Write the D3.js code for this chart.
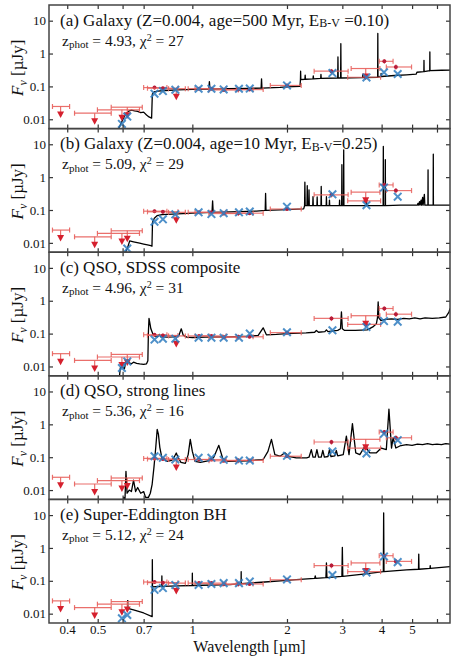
<!DOCTYPE html>
<html>
<head>
<meta charset="utf-8">
<script src="https://cdn.jsdelivr.net/npm/d3@7"></script>
<style>
body { margin: 0; background: #fff; }
svg text { font-family: "Liberation Serif", "DejaVu Serif", serif; fill: #111; }
</style>
</head>
<body>
<div id="figure"></div>
<script>

// axis ticks
var xTicks = [0.4, 0.5, 0.6, 0.7, 1, 2, 3, 4, 5, 6];
var xTickLabels = [0.4, 0.5, 0.7, 1, 2, 3, 4, 5];
var yTicks = [0.01, 0.1, 1, 10];

// observed photometry (same in every panel)
var detLam  = [0.758, 0.806, 1.05, 1.15, 1.26, 1.40, 1.52, 2.0, 2.77, 3.56, 4.08, 4.44];
var detLo   = [0.70, 0.72, 0.97, 1.02, 1.13, 1.25, 1.38, 1.77, 2.44, 3.12, 3.93, 4.14];
var detHi   = [0.83, 0.90, 1.13, 1.28, 1.40, 1.56, 1.68, 2.22, 3.13, 3.97, 4.35, 4.98];
var detFlux = [0.092, 0.088, 0.085, 0.085, 0.078, 0.080, 0.080, 0.107, 0.29, 0.19, 0.58, 0.39];
var detErr  = [0.012, 0.012, 0.008, 0.008, 0.008, 0.008, 0.008, 0.010, 0.05, 0.03, 0.09, 0.07];

// upper limits
var ulLam  = [0.381, 0.489, 0.597, 0.621, 0.889, 3.56];
var ulLo   = [0.359, 0.422, 0.499, 0.552, 0.84, 3.20];
var ulHi   = [0.407, 0.552, 0.679, 0.693, 0.95, 3.95];
var ulFlux = [0.0245, 0.0153, 0.0194, 0.0233, 0.085, 0.35];

// model photometry (blue crosses)
var filtLam = [0.597, 0.621, 0.758, 0.806, 0.883, 1.047, 1.15, 1.258, 1.407, 1.523, 2.0, 2.79, 3.58, 4.07, 4.50];
var modelA = [0.0072, 0.0121, 0.060, 0.072, 0.079, 0.085, 0.085, 0.081, 0.085, 0.086, 0.107, 0.255, 0.188, 0.268, 0.238];
var modelB = [0.003, 0.0067, 0.044, 0.052, 0.074, 0.085, 0.075, 0.080, 0.085, 0.090, 0.126, 0.30, 0.14, 0.48, 0.255];
var modelC = [0.009, 0.0142, 0.066, 0.070, 0.070, 0.075, 0.075, 0.075, 0.075, 0.100, 0.110, 0.126, 0.16, 0.24, 0.23];
var modelD = [0.003, 0.003, 0.107, 0.096, 0.085, 0.096, 0.096, 0.083, 0.079, 0.079, 0.110, 0.15, 0.13, 0.52, 0.33];
var modelE = [0.0072, 0.0091, 0.053, 0.060, 0.075, 0.075, 0.080, 0.085, 0.085, 0.095, 0.110, 0.15, 0.18, 0.55, 0.37];

// model spectra [wavelength um, flux uJy]
var specA = [[0.575,0.004],[0.595,0.008],[0.61,0.013],[0.625,0.0175],[0.64,0.019],[0.655,0.018],[0.67,0.0175],[0.685,0.016],[0.70,0.0165],[0.715,0.0135],[0.728,0.0118],[0.742,0.0108],[0.746,0.058],[0.756,0.068],[0.775,0.072],[0.82,0.075],[0.9,0.078],[1.0,0.081],[1.128,0.083],[1.133,0.14],[1.138,0.083],[1.3,0.085],[1.5,0.087],[1.655,0.089],[1.66,0.17],[1.665,0.089],[1.9,0.093],[2.0,0.097],[2.2,0.1],[2.207,0.16],[2.21,0.29],[2.214,0.16],[2.28,0.165],[2.285,0.22],[2.29,0.165],[2.42,0.17],[2.425,0.21],[2.43,0.17],[2.56,0.175],[2.565,0.23],[2.57,0.175],[2.9,0.18],[2.905,0.79],[2.91,0.18],[2.962,0.18],[2.967,2.0],[2.972,0.18],[3.2,0.182],[3.48,0.185],[3.485,0.23],[3.49,0.185],[3.885,0.19],[3.89,4.1],[3.895,0.19],[3.98,0.2],[3.985,0.25],[3.99,0.2],[4.4,0.215],[4.8,0.225],[5.15,0.235],[5.18,0.27],[5.45,0.28],[5.455,0.62],[5.46,0.28],[5.69,0.3],[5.695,1.12],[5.70,0.3],[6.2,0.31],[6.6,0.315]];

var specB = [[0.605,0.004],[0.622,0.007],[0.632,0.0115],[0.65,0.0108],[0.68,0.0098],[0.70,0.0092],[0.72,0.0087],[0.738,0.0082],[0.744,0.0079],[0.747,0.042],[0.757,0.056],[0.772,0.067],[0.8,0.072],[0.9,0.076],[1.0,0.08],[1.155,0.085],[1.16,0.19],[1.165,0.085],[1.4,0.089],[1.6,0.093],[1.705,0.097],[1.71,0.32],[1.715,0.098],[2.0,0.103],[2.26,0.108],[2.275,0.135],[2.28,0.7],[2.285,0.135],[2.315,0.135],[2.32,0.55],[2.325,0.135],[2.345,0.135],[2.35,0.41],[2.355,0.135],[2.415,0.135],[2.42,0.255],[2.425,0.135],[2.49,0.135],[2.495,0.25],[2.5,0.135],[2.565,0.135],[2.57,0.52],[2.575,0.135],[2.665,0.135],[2.67,0.255],[2.675,0.135],[2.725,0.135],[2.73,0.2],[2.735,0.135],[2.935,0.135],[2.94,0.2],[2.945,0.135],[2.985,0.135],[2.99,2.4],[2.995,0.135],[3.025,0.135],[3.03,6.8],[3.035,0.135],[3.3,0.135],[3.58,0.135],[3.585,0.17],[3.59,0.135],[4.045,0.135],[4.05,8.6],[4.055,0.135],[4.105,0.135],[4.11,3.4],[4.115,0.135],[4.6,0.14],[5.2,0.14],[5.22,0.16],[5.24,0.14],[5.28,0.18],[5.3,0.14],[5.34,0.2],[5.36,0.14],[5.4,0.24],[5.42,0.14],[5.47,0.3],[5.49,0.14],[5.615,0.14],[5.62,1.67],[5.625,0.14],[5.835,0.14],[5.84,5.0],[5.845,0.14],[6.2,0.14],[6.6,0.14]];

var specC = [[0.585,0.004],[0.59,0.009],[0.6,0.0095],[0.608,0.0085],[0.615,0.0145],[0.622,0.016],[0.63,0.013],[0.64,0.012],[0.65,0.0135],[0.665,0.0125],[0.68,0.012],[0.70,0.0115],[0.715,0.012],[0.722,0.015],[0.725,0.12],[0.728,0.29],[0.732,0.22],[0.738,0.14],[0.748,0.1],[0.76,0.085],[0.775,0.08],[0.785,0.095],[0.795,0.08],[0.83,0.078],[0.87,0.08],[0.905,0.085],[0.922,0.14],[0.935,0.09],[0.96,0.078],[1.0,0.076],[1.1,0.078],[1.3,0.08],[1.5,0.083],[1.62,0.088],[1.68,0.15],[1.72,0.092],[1.85,0.095],[2.0,0.1],[2.3,0.105],[2.45,0.11],[2.48,0.125],[2.52,0.11],[2.64,0.115],[2.67,0.13],[2.7,0.115],[2.9,0.125],[2.96,0.14],[2.98,0.46],[3.0,0.14],[3.05,0.125],[3.3,0.125],[3.6,0.13],[3.75,0.16],[3.85,0.2],[3.88,0.3],[3.9,0.93],[3.92,0.3],[3.98,0.25],[4.1,0.27],[4.3,0.28],[4.5,0.27],[4.7,0.29],[4.9,0.28],[5.1,0.3],[5.3,0.28],[5.5,0.3],[5.8,0.29],[6.1,0.3],[6.4,0.32],[6.55,0.45],[6.6,0.58]];

var specD = [[0.6,0.003],[0.605,0.006],[0.61,0.004],[0.615,0.037],[0.62,0.008],[0.63,0.01],[0.64,0.009],[0.65,0.02],[0.66,0.009],[0.67,0.012],[0.685,0.008],[0.7,0.009],[0.71,0.006],[0.725,0.006],[0.735,0.008],[0.745,0.015],[0.755,0.05],[0.765,0.2],[0.773,0.7],[0.78,0.5],[0.788,0.2],[0.8,0.095],[0.815,0.085],[0.83,0.075],[0.86,0.08],[0.875,0.1],[0.889,0.134],[0.9,0.1],[0.92,0.07],[0.95,0.065],[0.97,0.12],[0.985,0.35],[1.0,0.15],[1.02,0.075],[1.06,0.07],[1.1,0.075],[1.14,0.08],[1.17,0.1],[1.214,0.23],[1.25,0.09],[1.3,0.075],[1.5,0.078],[1.68,0.085],[1.74,0.15],[1.785,0.35],[1.83,0.12],[1.9,0.107],[1.97,0.136],[2.02,0.107],[2.14,0.096],[2.31,0.096],[2.35,0.1],[2.39,0.17],[2.42,0.1],[2.46,0.1],[2.49,0.17],[2.52,0.1],[2.57,0.1],[2.6,0.16],[2.63,0.1],[2.7,0.105],[2.73,0.17],[2.76,0.105],[2.84,0.11],[2.87,0.16],[2.9,0.11],[3.02,0.12],[3.09,0.44],[3.15,0.12],[3.23,1.05],[3.31,0.136],[3.41,0.12],[3.54,0.217],[3.67,0.136],[3.85,0.136],[3.99,0.19],[4.14,0.17],[4.22,2.9],[4.3,0.19],[4.35,0.39],[4.44,0.19],[4.57,0.22],[4.8,0.24],[5.0,0.23],[5.2,0.25],[5.4,0.24],[5.6,0.26],[5.8,0.24],[6.0,0.25],[6.2,0.24],[6.4,0.26],[6.6,0.25]];

var specE = [[0.623,0.026],[0.6235,0.0146],[0.65,0.013],[0.7,0.0105],[0.745,0.0081],[0.746,0.44],[0.747,0.065],[0.78,0.067],[0.799,0.068],[0.8,0.14],[0.801,0.068],[0.9,0.07],[0.999,0.072],[1.0,0.17],[1.001,0.072],[1.32,0.077],[1.429,0.082],[1.43,0.19],[1.431,0.082],[1.7,0.092],[2.14,0.108],[2.45,0.118],[2.46,0.14],[2.47,0.118],[2.66,0.125],[2.67,0.35],[2.68,0.125],[2.99,0.137],[3.0,1.04],[3.01,0.137],[3.5,0.16],[4.05,0.19],[4.06,11.7],[4.07,0.19],[4.8,0.215],[5.24,0.225],[5.25,0.65],[5.26,0.225],[5.7,0.24],[5.71,0.29],[5.72,0.24],[6.6,0.27]];

// panel texts
var titleA = ["(a) Galaxy (Z=0.004, age=500 Myr, E", "B-V", " =0.10)"];
var titleB = ["(b) Galaxy (Z=0.004, age=10 Myr, E", "B-V", "=0.25)"];
var titleC = ["(c) QSO, SDSS composite"];
var titleD = ["(d) QSO, strong lines"];
var titleE = ["(e) Super-Eddington BH"];
var zphot = ["4.93", "5.09", "4.96", "5.36", "5.12"];
var chi2 = ["27", "29", "31", "16", "24"];

var panels = [
  {title: titleA, spec: specA, model: modelA},
  {title: titleB, spec: specB, model: modelB},
  {title: titleC, spec: specC, model: modelC},
  {title: titleD, spec: specD, model: modelD},
  {title: titleE, spec: specE, model: modelE}
];

var W = 474, H = 658;
var margin = {left: 49, right: 24, top: 5};
var plotW = W - margin.left - margin.right;
var panelH = 123.6;
var serif = "'Liberation Serif', 'DejaVu Serif', serif";

var svg = d3.select("#figure").append("svg")
    .attr("width", W)
    .attr("height", H)
    .attr("font-family", serif);

var x = d3.scaleLog().domain([0.35, 6.6]).range([margin.left, margin.left + plotW]);
var y = d3.scaleLog().domain([0.0052, 30]).range([panelH, 0]);

var line = d3.line()
    .x(function(d) { return x(d[0]); })
    .y(function(d) { return y(d[1]); });

var dets = detLam.map(function(l, i) {
  return {lam: l, lo: detLo[i], hi: detHi[i], f: detFlux[i], e: detErr[i]};
});
var uls = ulLam.map(function(l, i) {
  return {lam: l, lo: ulLo[i], hi: ulHi[i], f: ulFlux[i]};
});

var errColor = "#e8605c", dotColor = "#b81c3a", triColor = "#d5202e", xColor = "#2f7dc0";

function fmt(d) {
  return xTickLabels.indexOf(d) >= 0 ? String(d) : "";
}

function styleAxis(a) {
  a.attr("font-family", serif);
  a.select(".domain").remove();
  a.selectAll("line").attr("stroke", "#333").attr("stroke-width", 1.2);
  a.selectAll("text").style("font-family", serif).style("font-size", "13px").attr("fill", "#111");
}

panels.forEach(function(p, i) {
  var g = svg.append("g")
      .attr("transform", "translate(0," + (margin.top + i * panelH) + ")");

  g.append("clipPath").attr("id", "clip" + i)
    .append("rect")
      .attr("x", margin.left).attr("y", 0)
      .attr("width", plotW).attr("height", panelH);

  var inner = g.append("g").attr("clip-path", "url(#clip" + i + ")");

  // model spectrum
  inner.append("path")
      .datum(p.spec)
      .attr("d", line)
      .attr("fill", "none")
      .attr("stroke", "#000")
      .attr("stroke-width", 1.3)
      .attr("stroke-linejoin", "round");

  // detections: horizontal + vertical error bars
  var dg = inner.selectAll(".det").data(dets).enter().append("g").attr("class", "det");
  dg.append("line")
      .attr("x1", function(d) { return x(d.lo); })
      .attr("x2", function(d) { return x(d.hi); })
      .attr("y1", function(d) { return y(d.f); })
      .attr("y2", function(d) { return y(d.f); });
  dg.append("line")
      .attr("x1", function(d) { return x(d.lo); })
      .attr("x2", function(d) { return x(d.lo); })
      .attr("y1", function(d) { return y(d.f) - 2.5; })
      .attr("y2", function(d) { return y(d.f) + 2.5; });
  dg.append("line")
      .attr("x1", function(d) { return x(d.hi); })
      .attr("x2", function(d) { return x(d.hi); })
      .attr("y1", function(d) { return y(d.f) - 2.5; })
      .attr("y2", function(d) { return y(d.f) + 2.5; });
  dg.append("line")
      .attr("x1", function(d) { return x(d.lam); })
      .attr("x2", function(d) { return x(d.lam); })
      .attr("y1", function(d) { return y(d.f + d.e); })
      .attr("y2", function(d) { return y(d.f - d.e); });
  dg.selectAll("line").attr("stroke", errColor).attr("stroke-width", 1.2).attr("opacity", 0.85);
  dg.append("circle")
      .attr("cx", function(d) { return x(d.lam); })
      .attr("cy", function(d) { return y(d.f); })
      .attr("r", 2)
      .attr("fill", dotColor);

  // upper limits
  var ug = inner.selectAll(".ul").data(uls).enter().append("g").attr("class", "ul");
  ug.append("line")
      .attr("x1", function(d) { return x(d.lo); })
      .attr("x2", function(d) { return x(d.hi); })
      .attr("y1", function(d) { return y(d.f); })
      .attr("y2", function(d) { return y(d.f); });
  ug.append("line")
      .attr("x1", function(d) { return x(d.lo); })
      .attr("x2", function(d) { return x(d.lo); })
      .attr("y1", function(d) { return y(d.f) - 2.5; })
      .attr("y2", function(d) { return y(d.f) + 2.5; });
  ug.append("line")
      .attr("x1", function(d) { return x(d.hi); })
      .attr("x2", function(d) { return x(d.hi); })
      .attr("y1", function(d) { return y(d.f) - 2.5; })
      .attr("y2", function(d) { return y(d.f) + 2.5; });
  ug.append("line")
      .attr("x1", function(d) { return x(d.lam); })
      .attr("x2", function(d) { return x(d.lam); })
      .attr("y1", function(d) { return y(d.f); })
      .attr("y2", function(d) { return y(d.f) + 6; });
  ug.selectAll("line").attr("stroke", errColor).attr("stroke-width", 1.2).attr("opacity", 0.9);
  ug.append("path")
      .attr("d", function(d) {
        var cx = x(d.lam), cy = y(d.f) + 8;
        return "M" + (cx - 3.5) + "," + (cy - 3) + "L" + (cx + 3.5) + "," + (cy - 3) + "L" + cx + "," + (cy + 3.5) + "Z";
      })
      .attr("fill", triColor);

  // model photometry crosses
  inner.selectAll(".mx").data(filtLam).enter().append("path")
      .attr("class", "mx")
      .attr("d", function(l, k) {
        var cx = x(l), cy = y(p.model[k]), s = 3.8;
        return "M" + (cx - s) + "," + (cy - s) + "L" + (cx + s) + "," + (cy + s) +
               "M" + (cx - s) + "," + (cy + s) + "L" + (cx + s) + "," + (cy - s);
      })
      .attr("stroke", xColor)
      .attr("stroke-width", 2)
      .attr("opacity", 0.85)
      .attr("fill", "none");

  // axes, ticks pointing inward
  var last = (i === panels.length - 1);
  g.append("g")
      .attr("transform", "translate(0," + panelH + ")")
      .call(d3.axisBottom(x).tickValues(xTicks).tickSize(-4).tickPadding(1.5)
            .tickFormat(last ? fmt : function() { return ""; }))
      .call(styleAxis);
  g.append("g")
      .call(d3.axisTop(x).tickValues(xTicks).tickSize(-4).tickFormat(""))
      .call(styleAxis);
  g.append("g")
      .attr("transform", "translate(" + margin.left + ",0)")
      .call(d3.axisLeft(y).tickValues(yTicks).tickSize(-4).tickPadding(3)
            .tickFormat(function(d) { return String(d); }))
      .call(styleAxis);
  g.append("g")
      .attr("transform", "translate(" + (margin.left + plotW) + ",0)")
      .call(d3.axisRight(y).tickValues(yTicks).tickSize(-4).tickFormat(""))
      .call(styleAxis);

  // frame
  g.append("rect")
      .attr("x", margin.left).attr("y", 0)
      .attr("width", plotW).attr("height", panelH)
      .attr("fill", "none")
      .attr("stroke", "#444")
      .attr("stroke-width", 1.5);

  // panel title
  var t = g.append("text")
      .attr("x", 60).attr("y", 20.5)
      .style("font-family", serif)
      .style("font-size", "17px");
  t.append("tspan").text(p.title[0]);
  if (p.title.length > 1) {
    t.append("tspan").attr("dy", 1.5).style("font-size", "12px").text(p.title[1]);
    t.append("tspan").attr("dy", -1.5).text(p.title[2]);
  }

  var z = g.append("text")
      .attr("x", 62).attr("y", 40.5)
      .style("font-family", serif)
      .style("font-size", "15.5px");
  z.append("tspan").text("z");
  z.append("tspan").attr("dy", 2.5).style("font-size", "11px").text("phot");
  z.append("tspan").attr("dy", -2.5).text(" = " + zphot[i] + ", \u03c7");
  z.append("tspan").attr("dy", -5).style("font-size", "10px").text("2");
  z.append("tspan").attr("dy", 5).text(" = " + chi2[i]);

  // y label
  var yl = g.append("text")
      .attr("transform", "translate(23," + (panelH / 2 + 1) + ") rotate(-90)")
      .attr("text-anchor", "middle")
      .style("font-family", serif)
      .style("font-size", "17px");
  yl.append("tspan").style("font-style", "italic").text("F");
  yl.append("tspan").attr("dy", 4).style("font-size", "12px").style("font-style", "italic").text("\u03bd");
  yl.append("tspan").attr("dy", -4).text(" [\u00b5Jy]");
});

svg.append("text")
    .attr("x", margin.left + plotW / 2)
    .attr("y", 652)
    .attr("text-anchor", "middle")
    .style("font-family", serif)
    .style("font-size", "16px")
    .text("Wavelength [\u00b5m]");

</script>
</body>
</html>
